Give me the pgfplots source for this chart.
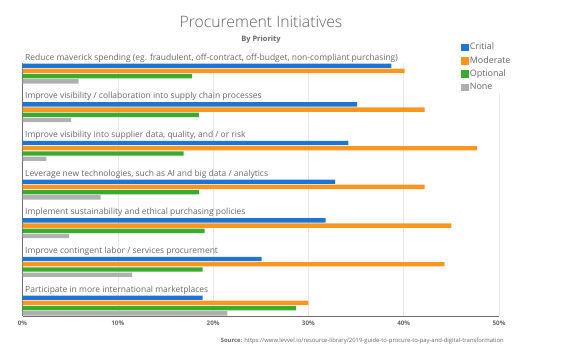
\documentclass[border=0pt]{standalone}
\usepackage{pgfplots}
\usepackage{pgfplotstable}
\pgfplotsset{compat=1.18}
\usepackage{fontspec}
\setmainfont{Open Sans}
\newfontfamily\lightfont{Open Sans Light}
\definecolor{cblue}{RGB}{30,118,212}
\definecolor{corange}{RGB}{250,150,30}
\definecolor{cgreen}{RGB}{58,171,46}
\definecolor{cgray}{RGB}{176,176,176}
\definecolor{txt}{RGB}{102,102,102}
\definecolor{titlegray}{RGB}{95,95,95}
\definecolor{axisgray}{RGB}{110,110,110}
\definecolor{gridgray}{RGB}{232,232,232}

\pgfplotstableread{
val pos
38.7 0
35.1 1
34.2 2
32.8 3
31.8 4
25.1 5
18.9 6
}\critical
\pgfplotstableread{
val pos
40.1 0.135
42.2 1.135
47.7 2.135
42.2 3.135
45.0 4.135
44.3 5.135
30.0 6.135
}\moderate
\pgfplotstableread{
val pos
17.8 0.27
18.5 1.27
16.9 2.27
18.5 3.27
19.1 4.27
18.9 5.27
28.7 6.27
}\optional
\pgfplotstableread{
val pos
5.9 0.405
5.1 1.405
2.5 2.405
8.2 3.405
4.9 4.405
11.5 5.405
21.5 6.405
}\none

\pgfplotsset{
  mybar/.style={xbar, bar width=4.4bp, bar shift=0pt, draw=none, forget plot},
  legblue/.style={legend image code/.code={\fill[cblue] (0bp,-3.2bp) rectangle (6.5bp,3.3bp);}},
  legorange/.style={legend image code/.code={\fill[corange] (0bp,-3.2bp) rectangle (6.5bp,3.3bp);}},
  leggreen/.style={legend image code/.code={\fill[cgreen] (0bp,-3.2bp) rectangle (6.5bp,3.3bp);}},
  leggray/.style={legend image code/.code={\fill[cgray] (0bp,-3.2bp) rectangle (6.5bp,3.3bp);}},
}

\begin{document}
\begin{tikzpicture}
\path[use as bounding box] (0,0) rectangle (567bp,354bp);
\begin{axis}[
 at={(22.5bp,38bp)}, anchor=south west,
 scale only axis, width=476.5bp, height=253bp,
 xmin=0, xmax=50, ymin=-0.07, ymax=6.473, y dir=reverse,
 xtick={0,10,20,30,40,50}, xticklabels={0\%,10\%,20\%,30\%,40\%,50\%},
 ytick=\empty,
 xmajorgrids, grid style={gridgray, line width=0.6pt},
 major tick length=0pt,
 axis x line*=bottom, axis y line*=left,
 x axis line style={draw=axisgray, line width=0.8pt},
 y axis line style={draw=axisgray, line width=1.4pt},
 xticklabel style={font=\bfseries\fontsize{6.3}{7}\selectfont, text=txt, yshift=-1bp},
 legend style={at={(rel axis cs:0.92,1.087)}, anchor=north west, draw=none, fill=white,
   font=\fontsize{9}{10}\selectfont, text=txt, row sep=1.5bp, inner sep=0pt,
   nodes={inner sep=1.8bp, anchor=west}},
 legend cell align=left,
 clip=false,
]
\addplot[mybar, fill=cblue] table[x=val,y=pos]{\critical};
\addplot[mybar, fill=corange] table[x=val,y=pos]{\moderate};
\addplot[mybar, fill=cgreen] table[x=val,y=pos]{\optional};
\addplot[mybar, fill=cgray] table[x=val,y=pos]{\none};
\addlegendimage{legblue}\addlegendentry{Critial}
\addlegendimage{legorange}\addlegendentry{Moderate}
\addlegendimage{leggreen}\addlegendentry{Optional}
\addlegendimage{leggray}\addlegendentry{None}
\begin{scope}[every node/.style={anchor=base west, inner sep=0pt, xshift=2.5bp, text=txt, font=\fontsize{8.5}{10}\selectfont}]
\node at (axis cs:0,-0.147) {Reduce maverick spending (eg. fraudulent, off-contract, off-budget, non-compliant purchasing)};
\node at (axis cs:0,0.853) {Improve visibility / collaboration into supply chain processes};
\node at (axis cs:0,1.853) {Improve visibility into supplier data, quality, and / or risk};
\node at (axis cs:0,2.853) {Leverage new technologies, such as AI and big data / analytics};
\node at (axis cs:0,3.853) {Implement sustainability and ethical purchasing policies};
\node at (axis cs:0,4.853) {Improve contingent labor / services procurement};
\node at (axis cs:0,5.853) {Participate in more international marketplaces};
\end{scope}
\end{axis}
\node[anchor=base, inner sep=0pt, font=\lightfont\fontsize{15.8}{18}\selectfont, text=titlegray] at (261bp,326bp) {Procurement Initiatives};
\node[anchor=base, inner sep=0pt, font=\bfseries\fontsize{7.5}{9}\selectfont, text=txt] at (261bp,312.5bp) {By Priority};
\node[anchor=base east, inner sep=0pt, font=\fontsize{5.9}{7}\selectfont, text=txt] at (504bp,12bp) {\textbf{Source:} https://www.levvel.io/resource-library/2019-guide-to-procure-to-pay-and-digital-transformation};
\end{tikzpicture}
\end{document}
